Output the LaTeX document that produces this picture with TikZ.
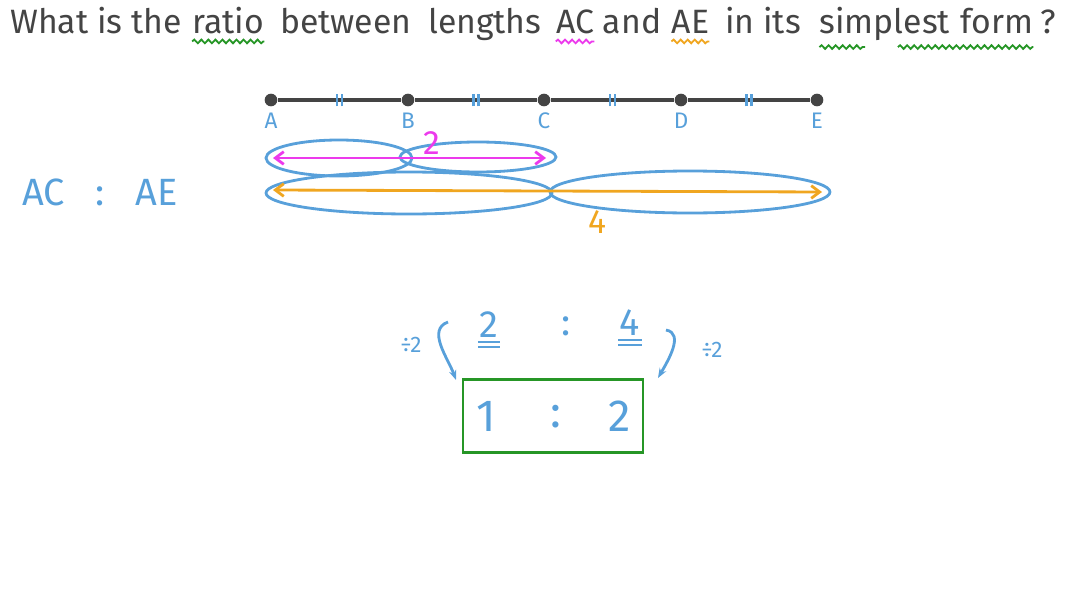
\documentclass[tikz,border=0pt]{standalone}
\usepackage{fontspec}
\setmainfont{Fira Sans}
\usetikzlibrary{calc,positioning,decorations.pathmorphing,arrows.meta}
\definecolor{penblue}{RGB}{88,160,218}
\definecolor{penpink}{RGB}{236,58,236}
\definecolor{penorange}{RGB}{240,166,32}
\definecolor{pengreen}{RGB}{38,150,38}
\definecolor{pengray}{RGB}{68,68,68}
\tikzset{
	word/.style={inner sep=0pt, anchor=base west, text=pengray, font=\fontsize{24}{26}\selectfont},
	squiggle/.style={decorate, decoration={snake, amplitude=1.3pt, segment length=5pt}, line width=1.3pt},
	dot/.style={circle, fill=pengray, inner sep=0pt, minimum size=9pt},
	ptlabel/.style={text=penblue, font=\fontsize{16}{18}\selectfont},
	loopline/.style={penblue, line width=2pt},
	bluetext/.style={text=penblue, inner sep=1pt}
}
\begin{document}
\begin{tikzpicture}[x=0.025cm, y=-0.025cm]
			\useasboundingbox (0,0) rectangle (1088,612);
			% title
			\node[word] (w1) at (10,33) {What is the};
			\node[word] (ratio) at ([xshift=7pt]w1.base east) {ratio};
			\node[word] (w3) at ([xshift=11pt]ratio.base east) {between\hspace{12pt}lengths};
			\node[word] (ac) at ([xshift=10pt]w3.base east) {AC};
			\node[word] (w5) at ([xshift=6pt]ac.base east) {and};
			\node[word] (ae) at ([xshift=7pt]w5.base east) {AE};
			\node[word] (w7) at ([xshift=11pt]ae.base east) {in its};
			\node[word] (simp) at ([xshift=13pt]w7.base east) {simplest};
			\node[word] (form) at ([xshift=7pt]simp.base east) {form};
			\node[word] (qm) at ([xshift=5pt]form.base east) {?};
			\draw[squiggle, pengreen] ([yshift=-6pt]ratio.base west) -- ([yshift=-6pt]ratio.base east);
			\draw[squiggle, penpink] ([yshift=-6pt]ac.base west) -- ([yshift=-6pt]ac.base east);
			\draw[squiggle, penorange] ([yshift=-6pt]ae.base west) -- ([yshift=-6pt]ae.base east);
			\draw[squiggle, pengreen] ([yshift=-10pt]simp.base west) -- ($([yshift=-10pt]simp.base west)!0.35!([yshift=-10pt]simp.base east)$);
			\draw[squiggle, pengreen] ($([yshift=-10pt]simp.base west)!0.6!([yshift=-10pt]simp.base east)$) -- ([yshift=-10pt]form.base east);
			% number line
			\foreach \n/\x in {A/271,B/408,C/544,D/681,E/817}{
				\node[dot] (\n) at (\x,100) {};
				\node[ptlabel, below=1pt of \n] (lab\n) {\n};
			}
			\draw[pengray, line width=2.5pt] (A) -- (B) -- (C) -- (D) -- (E);
			\foreach \p/\q in {A/B,B/C,C/D,D/E}{
				\coordinate (m\p) at ($(\p)!0.5!(\q)$);
				\draw[penblue, line width=1.5pt] ([xshift=-1.8pt,yshift=-4.5pt]m\p) -- ([xshift=-1.8pt,yshift=4.5pt]m\p)
					([xshift=1.8pt,yshift=-4.5pt]m\p) -- ([xshift=1.8pt,yshift=4.5pt]m\p);
			}
			% lengths
			\coordinate (pL) at (273,158);
			\coordinate (pR) at (546,158);
			\coordinate (oL) at (273,190);
			\coordinate (oR) at (822,192);
			\draw[loopline] (339,158) ellipse [x radius=73, y radius=18];
			\draw[loopline] (478,157) ellipse [x radius=78, y radius=15];
			\draw[loopline] (409,193) ellipse [x radius=143, y radius=21];
			\draw[loopline] (690,192) ellipse [x radius=140, y radius=21];
			\draw[penpink, line width=2pt, {Straight Barb[length=6pt,width=9pt]}-{Straight Barb[length=6pt,width=9pt]}] (pL) -- (pR);
			\draw[penorange, line width=2pt, {Straight Barb[length=6pt,width=9pt]}-{Straight Barb[length=6pt,width=9pt]}] (oL) -- (oR);
			\node[text=penpink, font=\fontsize{24}{26}\selectfont] (two) at (432,143) {2};
			\node[text=penorange, font=\fontsize{24}{26}\selectfont] (four) at (597,222) {4};
			\node[bluetext, font=\fontsize{27}{29}\selectfont] (ratiotxt) at (100,192) {AC\hspace{22pt}:\hspace{22pt}AE};
			% simplifying
			\node[bluetext, font=\fontsize{27}{29}\selectfont] (n2) at (489,325) {2};
			\node[bluetext, font=\fontsize{27}{29}\selectfont] (col1) at (566,326) {:};
			\node[bluetext, font=\fontsize{27}{29}\selectfont] (n4) at (630,323) {4};
			\draw[penblue, line width=1.3pt] ([yshift=-2pt]n2.south west) -- ([yshift=-2pt]n2.south east)
				([yshift=-5pt]n2.south west) -- ([yshift=-5pt]n2.south east);
			\draw[penblue, line width=1.3pt] ([yshift=-2pt]n4.south west) -- ([yshift=-2pt]n4.south east)
				([yshift=-5pt]n4.south west) -- ([yshift=-5pt]n4.south east);
			\node[bluetext, font=\fontsize{16}{18}\selectfont] (divL) at (411,345) {÷2};
			\node[bluetext, font=\fontsize{16}{18}\selectfont] (divR) at (712,350) {÷2};
			\node[draw=pengreen, line width=2pt, minimum width=180*0.025cm, minimum height=73*0.025cm] (box) at (553,416) {};
			\node[bluetext, font=\fontsize{32}{34}\selectfont] (one) at (486,416) {1};
			\node[bluetext, font=\fontsize{32}{34}\selectfont] (col2) at (556,417) {:};
			\node[bluetext, font=\fontsize{32}{34}\selectfont] (res2) at (620,416) {2};
			\coordinate (aL) at (448,322);
			\coordinate (aR) at (666,330);
			\draw[loopline, -{Stealth[length=7pt]}] (aL) to[out=200, in=110] (456,380);
			\draw[loopline, -{Stealth[length=7pt]}] (aR) to[out=-10, in=60] (658,378);
	\end{tikzpicture}
\end{document}
